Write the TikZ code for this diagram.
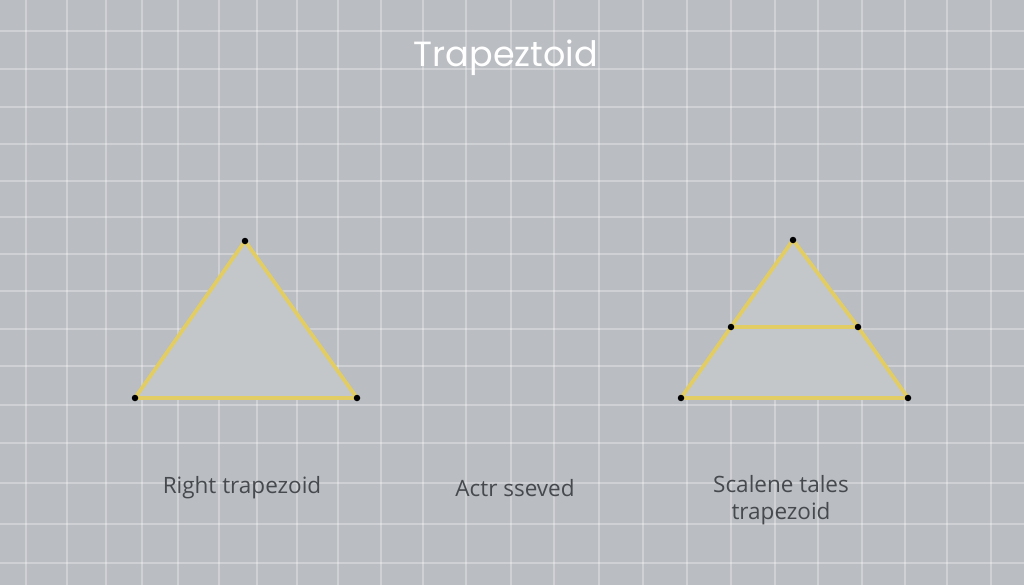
\documentclass[tikz,border=0pt]{standalone}
\usepackage{fontspec}
\setmainfont{Open Sans}
\newfontfamily\titlefont{Poppins}
\definecolor{bggray}{RGB}{186,189,193}
\definecolor{facegray}{RGB}{196,199,202}
\definecolor{edgeyellow}{RGB}{226,205,100}
\definecolor{labelgray}{RGB}{70,73,78}
\tikzset{
	vertex/.style={circle, fill=black, inner sep=0pt, minimum size=6.5pt},
	edge/.style={edgeyellow, line width=3.8pt, line cap=round, line join=round},
	face/.style={fill=facegray, draw=none},
	gridline/.style={white, opacity=0.3, line width=1.4pt},
	caption/.style={text=labelgray, font=\fontsize{22.5}{27}\selectfont, align=center}
}
\begin{document}
\begin{tikzpicture}[x=1pt, y=-1pt]
				\useasboundingbox (0,0) rectangle (1024,585);
				\fill[bggray] (0,0) rectangle (1024,585);
				%raster
				\foreach \x in {26,67,106,142,178,219,257,297,338,381,423,466,511,554,599,643,687,731,775,818,862,905,947,991} {
					\draw[gridline] (\x,0) -- (\x,585);
				}
				\foreach \y in {31,69,107,144,181,217,254,291,329,366,405,443,483,524,563} {
					\draw[gridline] (0,\y) -- (1024,\y);
				}
				\node[text=white, font=\titlefont\fontsize{35}{40}\selectfont] (title) at (506,58) {Trapeztoid};
				%figur 1
				\coordinate (aTop) at (245,241);
				\coordinate (aLeft) at (135,398);
				\coordinate (aRight) at (357,398);
				\fill[face] (aTop) -- (aLeft) -- (aRight) -- cycle;
				\draw[edge] (aTop) -- (aLeft) -- (aRight) -- cycle;
				\foreach \p in {aTop, aLeft, aRight} {
					\node[vertex] at (\p) {};
				}
				%figur 2
				\coordinate (bTop) at (793,240);
				\coordinate (bLeft) at (681,398);
				\coordinate (bRight) at (908,398);
				\coordinate (bMidL) at (731,327);
				\coordinate (bMidR) at (858,327);
				\fill[face] (bTop) -- (bLeft) -- (bRight) -- cycle;
				\draw[edge] (bTop) -- (bMidL) -- (bLeft) -- (bRight) -- (bMidR) -- cycle;
				\draw[edge] (bMidL) -- (bMidR);
				\foreach \p in {bTop, bLeft, bRight, bMidL, bMidR} {
					\node[vertex] at (\p) {};
				}
				%beschriftung
				\node[caption] (capA) at (242,488) {Right trapezoid};
				\node[caption] (capB) at (515,488) {Actr sseved};
				\node[caption, anchor=north] (capC) at (781,472) {Scalene tales\\trapezoid};
\end{tikzpicture}
\end{document}
